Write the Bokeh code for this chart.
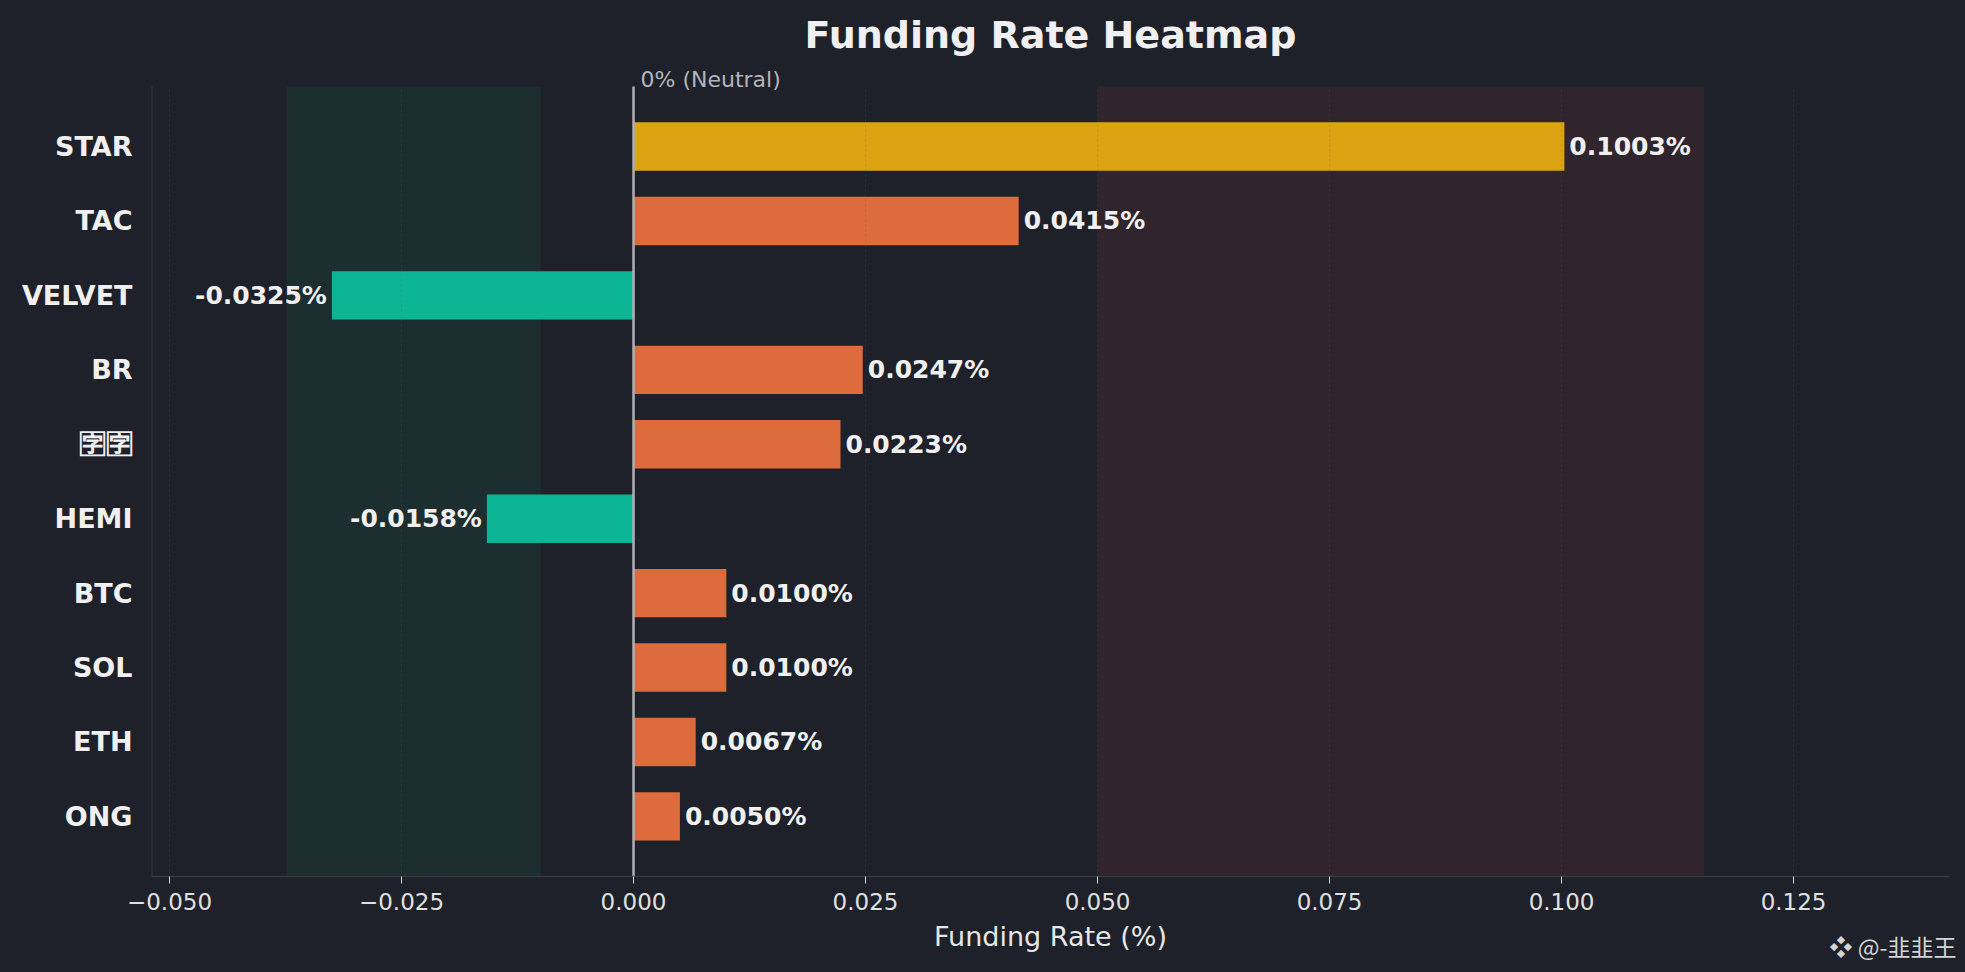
from bokeh.plotting import figure
from bokeh.models import Range1d, FixedTicker, BoxAnnotation, Title, Label, ColumnDataSource
from bokeh.embed import file_html
from bokeh.resources import INLINE
from bokeh.core.properties import value

# ---------------- data ----------------
symbols = ["STAR", "TAC", "VELVET", "BR", "\U0001F211\U0001F211", "HEMI", "BTC", "SOL", "ETH", "ONG"]
rates = [0.1003, 0.0415, -0.0325, 0.0247, 0.0223, -0.0158, 0.0100, 0.0100, 0.0067, 0.0050]
xticks = [-0.050, -0.025, 0.000, 0.025, 0.050, 0.075, 0.100, 0.125]
xtick_labels = ["\u22120.050", "\u22120.025", "0.000", "0.025", "0.050", "0.075", "0.100", "0.125"]
neutral_label = "0% (Neutral)"
title_text = "Funding Rate Heatmap"
xlabel = "Funding Rate (%)"
watermark = "\u2756 @-韭韭王"

# ---------------- styles ----------------
BG = "#1e2129"
GOLD = "#dca412"
ORANGE = "#de6b3b"
TEAL = "#0cb594"
GREEN_SPAN = "#1c2e2f"
RED_SPAN = "#30252d"
SPINE = "#343840"
FONT = "DejaVu Sans"

n = len(symbols)
ys = [n - 1 - i for i in range(n)]
colors = [GOLD if r > 0.05 else (ORANGE if r > 0 else TEAL) for r in rates]
labels = [f"{r:.4f}%" for r in rates]

rmin, rmax = min(rates), max(rates)
x_start, x_end = -0.05194, 0.1418
y_start = -0.8075
y_top = n - 1 + 0.8075          # top of the axes area
y_end = 10.0755                 # a little head-room for the neutral note

p = figure(width=1957, height=964, output_backend="svg", toolbar_location=None,
           x_range=Range1d(x_start, x_end), y_range=Range1d(y_start, y_end),
           min_border_left=151, min_border_right=8, min_border_top=64, min_border_bottom=88)
p.background_fill_color = BG
p.border_fill_color = BG
p.outline_line_color = None
p.styles = {"background-color": BG}

# shaded zones
p.add_layout(BoxAnnotation(left=rmin * 1.15, right=-0.01, top=y_top, fill_color=GREEN_SPAN,
                           fill_alpha=1.0, line_color=None, level="underlay"))
p.add_layout(BoxAnnotation(left=0.05, right=rmax * 1.15, top=y_top, fill_color=RED_SPAN,
                           fill_alpha=1.0, line_color=None, level="underlay"))

# left spine (limited to the axes area)
p.segment(x0=[x_start], y0=[y_start], x1=[x_start], y1=[y_top], line_color=SPINE, line_width=2)

src = ColumnDataSource(dict(y=ys, r=rates, c=colors, t=labels))
p.hbar(y="y", left=0, right="r", height=0.65, fill_color="c", line_color=None, source=src)

# dotted grid above bars
p.segment(x0=xticks, y0=[y_start] * len(xticks), x1=xticks, y1=[y_top] * len(xticks),
          line_color="#5a5f68", line_alpha=0.25, line_dash="2 3", line_width=1)

pos = ColumnDataSource(dict(y=[y for y, r in zip(ys, rates) if r >= 0],
                            r=[r for r in rates if r >= 0],
                            t=[t for t, r in zip(labels, rates) if r >= 0]))
neg = ColumnDataSource(dict(y=[y for y, r in zip(ys, rates) if r < 0],
                            r=[r for r in rates if r < 0],
                            t=[t for t, r in zip(labels, rates) if r < 0]))
p.text(x="r", y="y", text="t", source=pos, x_offset=5, text_align="left", text_baseline="middle",
       text_color="#f0f0f0", text_font=value(FONT), text_font_style="bold", text_font_size="25px")
p.text(x="r", y="y", text="t", source=neg, x_offset=-5, text_align="right", text_baseline="middle",
       text_color="#f0f0f0", text_font=value(FONT), text_font_style="bold", text_font_size="25px")

# zero line
p.segment(x0=[0], y0=[y_start], x1=[0], y1=[y_top], line_color="#b0b0b4", line_width=2.5)

# neutral note
p.add_layout(Label(x=0, y=y_top, x_offset=7, y_offset=7, text=neutral_label,
                   text_align="left", text_baseline="alphabetic", text_color="#b4b4b8",
                   text_font=FONT, text_font_size="22px"))

# grids off (drawn above)
p.ygrid.grid_line_color = None
p.xgrid.grid_line_color = None

# x axis
xa = p.xaxis[0]
xa.ticker = FixedTicker(ticks=xticks)
xa.major_label_overrides = {t: l for t, l in zip(xticks, xtick_labels)}
xa.axis_line_color = SPINE
xa.axis_line_width = 1.5
xa.major_tick_line_color = "#d8d8d8"
xa.major_tick_out = 7
xa.major_tick_in = 0
xa.minor_tick_line_color = None
xa.major_label_text_color = "#e0e0e0"
xa.major_label_text_font = FONT
xa.major_label_text_font_size = "23px"
xa.major_label_standoff = 9
xa.axis_label = xlabel
xa.axis_label_text_color = "#e6e6e6"
xa.axis_label_text_font = FONT
xa.axis_label_text_font_size = "27px"
xa.axis_label_text_font_style = "normal"
xa.axis_label_standoff = 8

# y axis
ya = p.yaxis[0]
ya.ticker = FixedTicker(ticks=ys)
ya.major_label_overrides = {y: s for y, s in zip(ys, symbols)}
ya.axis_line_color = None
ya.major_tick_line_color = None
ya.major_tick_out = 0
ya.major_tick_in = 0
ya.minor_tick_line_color = None
ya.major_label_text_color = "#f0f0f0"
ya.major_label_text_font = FONT
ya.major_label_text_font_style = "bold"
ya.major_label_text_font_size = "27px"
ya.major_label_standoff = 19

# title
p.title.text = title_text
p.title.align = "center"
p.title.text_color = "#f0f0f2"
p.title.text_font = FONT
p.title.text_font_style = "bold"
p.title.text_font_size = "38px"
p.title.standoff = 20

# watermark
p.add_layout(Title(text=watermark, align="right", offset=-7, standoff=-52, vertical_align="top",
                   text_color="#d4d4d4", text_font="Noto Sans CJK SC", text_font_style="normal",
                   text_font_size="23px"), "below")

html = file_html(p, INLINE)
html = html.replace("</head>", "<style>html, body { background-color: #1e2129; }</style></head>", 1)
open("out.html", "w").write(html)
